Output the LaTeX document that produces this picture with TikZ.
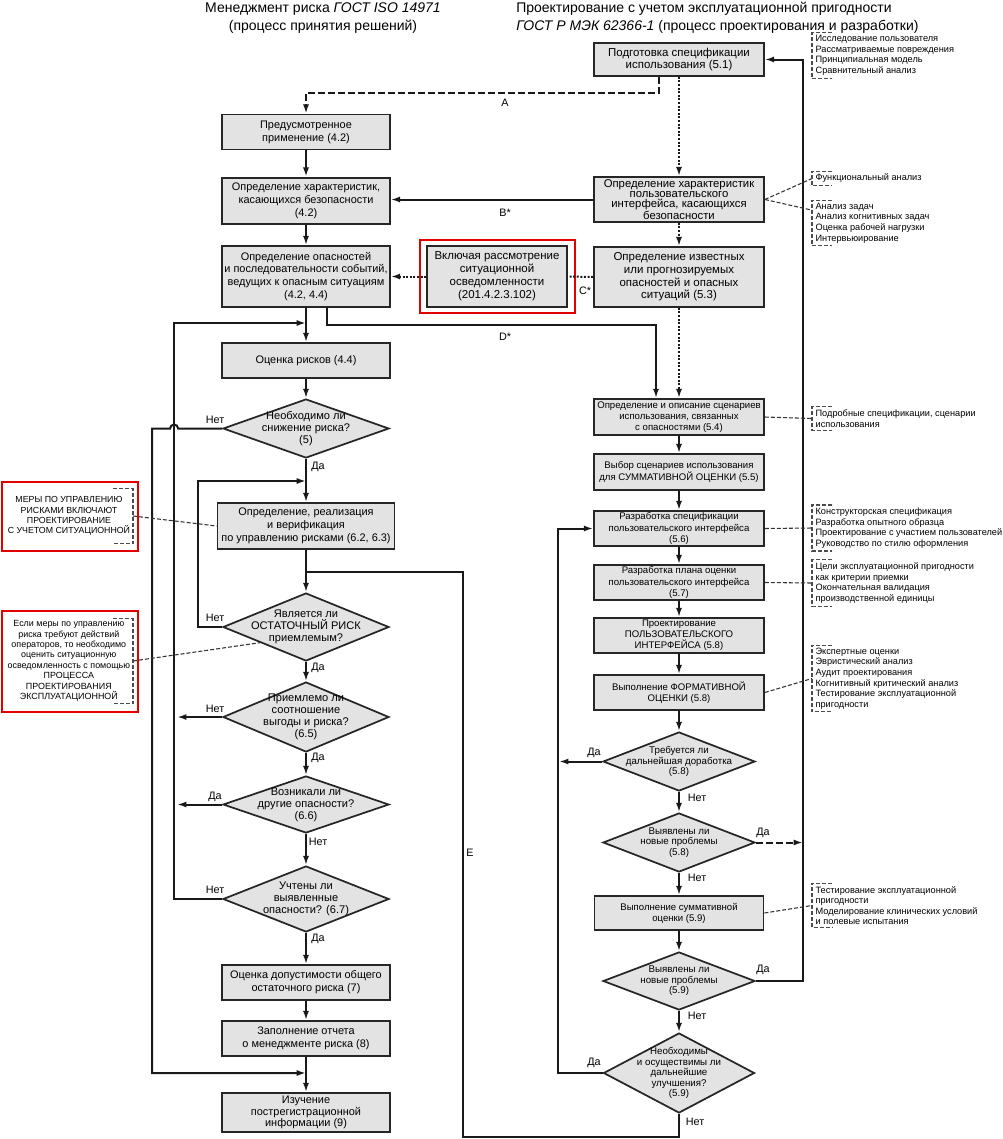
\documentclass[tikz,border=0pt]{standalone}
\usepackage{fontspec}
\setmainfont{Liberation Sans}
\usetikzlibrary{arrows.meta,shapes.geometric,calc}

\begin{document}
\begin{tikzpicture}[
    x=0.75pt, y=-0.75pt,
    >={Latex[length=7pt,width=4.6pt]},
    box/.style={rectangle, draw=black!85, line width=1.3pt, fill=black!11, align=center, inner sep=1pt, font=\fontsize{8.2}{9.7}\selectfont},
    lbox/.style={box, minimum width=126pt},
    rbox/.style={box, minimum width=127.5pt, font=\fontsize{8.6}{9.5}\selectfont},
    sbox/.style={rbox, font=\fontsize{7.2}{8.3}\selectfont},
    decision/.style={diamond, draw=black!85, line width=1.3pt, fill=black!11, inner sep=0pt, minimum width=124.5pt, label={[align=center, font=\fontsize{8.3}{9}\selectfont]center:{#1}}},
    sdecision/.style={diamond, draw=black!85, line width=1.3pt, fill=black!11, inner sep=0pt, minimum width=114pt, label={[align=center, font=\fontsize{7.3}{7.9}\selectfont]center:{#1}}},
    redframe/.style={rectangle, draw=red!90!black, line width=2.2pt, minimum width=102pt},
    note/.style={anchor=west, align=left, inner xsep=2.5pt, inner ysep=2pt, font=\fontsize{6.9}{7.9}\selectfont},
    rednote/.style={anchor=east, align=center, inner xsep=2pt, inner ysep=0pt, font=\fontsize{6.7}{7.8}\selectfont},
    heading/.style={font=\fontsize{10.5}{13.5}\selectfont, inner sep=0pt},
    answer/.style={font=\fontsize{8.1}{9}\selectfont, inner sep=0pt},
    flow/.style={->, line width=1.5pt, black!90},
    dotline/.style={line width=1.5pt, dash pattern=on 1.5pt off 1.2pt, black!90},
    dashline/.style={line width=1.5pt, dash pattern=on 5pt off 2.5pt, black!90},
    link/.style={line width=0.8pt, dash pattern=on 3pt off 1.5pt, black!80},
    brk/.style={line width=0.8pt, dash pattern=on 3pt off 1.5pt, black!70}
  ]
  \useasboundingbox (0,0) rectangle (1003,1139);

  %Titles
  \node[heading, anchor=north, align=center] (ltitle) at (323,2) {Менеджмент риска \textit{ГОСТ ISO 14971}\\(процесс принятия решений)};
  \node[heading, anchor=north west, align=left] (rtitle) at (516,2) {Проектирование с учетом эксплуатационной пригодности\\\textit{ГОСТ Р МЭК 62366-1} (процесс проектирования и разработки)};

  %Nodes (risk management)
  \node[lbox, minimum height=26.25pt] (intended) at (306,132) {Предусмотренное\\применение (4.2)};
  \node[lbox, minimum height=35pt] (safety) at (306,201) {Определение характеристик,\\касающихся безопасности\\(4.2)};
  \node[lbox, minimum height=45.75pt] (hazards) at (306,276.5) {Определение опасностей\\и последовательности событий,\\ведущих к опасным ситуациям\\(4.2, 4.4)};
  \node[lbox, minimum height=26.25pt] (risk) at (306,360.5) {Оценка рисков (4.4)};
  \node[decision={Необходимо ли\\снижение риска?\\(5)}, minimum height=44.25pt] (reduce) at (306,428.5) {};
  \node[lbox, minimum width=132.75pt, minimum height=34.5pt] (control) at (306,526) {Определение, реализация\\и верификация\\по управлению рисками (6.2, 6.3)};
  \node[decision={Является ли\\ОСТАТОЧНЫЙ РИСК\\приемлемым?}, minimum height=51pt] (resid) at (306,627) {};
  \node[decision={Приемлемо ли\\соотношение\\выгоды и риска?\\(6.5)}, minimum height=52.5pt] (benefit) at (306,717) {};
  \node[decision={Возникали ли\\другие опасности?\\(6.6)}, minimum height=42.75pt] (other) at (306,804.5) {};
  \node[decision={Учтены ли\\выявленные\\опасности? (6.7)}, minimum height=49.5pt] (found) at (306,899) {};
  \node[lbox, minimum height=26.25pt] (overall) at (306,982.5) {Оценка допустимости общего\\остаточного риска (7)};
  \node[lbox, minimum height=26.25pt] (report) at (306,1038.5) {Заполнение отчета\\о менеджменте риска (8)};
  \node[lbox, minimum height=29.25pt, font=\fontsize{8.2}{8.4}\selectfont] (pms) at (306,1112.5) {Изучение\\пострегистрационной\\информации (9)};

  %Nodes (usability engineering)
  \node[rbox, minimum height=24.75pt] (spec) at (679,59.5) {Подготовка спецификации\\использования (5.1)};
  \node[rbox, minimum height=33.75pt, inner sep=0.5pt, font=\fontsize{8.5}{7.7}\selectfont] (ui) at (679,199.5) {Определение характеристик\\пользовательского\\интерфейса, касающихся\\безопасности};
  \node[rbox, minimum height=45pt] (known) at (679,277) {Определение известных\\или прогнозируемых\\опасностей и опасных\\ситуаций (5.3)};
  \node[sbox, minimum height=27pt] (scen) at (679,417) {Определение и описание сценариев\\использования, связанных\\с опасностями (5.4)};
  \node[sbox, minimum height=27pt] (select) at (679,472) {Выбор сценариев использования\\для СУММАТИВНОЙ ОЦЕНКИ (5.5)};
  \node[sbox, minimum height=26.25pt] (uispec) at (679,528.5) {Разработка спецификации\\пользовательского интерфейса\\(5.6)};
  \node[sbox, minimum height=26.25pt] (evalplan) at (679,582.5) {Разработка плана оценки\\пользовательского интерфейса\\(5.7)};
  \node[sbox, minimum height=26.25pt] (uidesign) at (679,635.5) {Проектирование\\ПОЛЬЗОВАТЕЛЬСКОГО\\ИНТЕРФЕЙСА (5.8)};
  \node[sbox, minimum height=26.25pt] (formative) at (679,692.5) {Выполнение ФОРМАТИВНОЙ\\ОЦЕНКИ (5.8)};
  \node[sdecision={Требуется ли\\дальнейшая доработка\\(5.8)}, minimum height=44.25pt] (rework) at (679,761.5) {};
  \node[sdecision={Выявлены ли\\новые проблемы\\(5.8)}, minimum height=44.25pt] (issues58) at (679,842.5) {};
  \node[sbox, minimum width=126.75pt, minimum height=25.5pt] (summative) at (679,913) {Выполнение суммативной\\оценки (5.9)};
  \node[sdecision={Выявлены ли\\новые проблемы\\(5.9)}, minimum height=43.5pt] (issues59) at (679,981) {};
  \node[sdecision={Необходимы\\и осуществимы ли\\дальнейшие\\улучшения?\\(5.9)}, minimum width=113.25pt, minimum height=60pt] (improve) at (679,1073) {};

  %Situation awareness
  \node[box, minimum width=105pt, minimum height=45.75pt, font=\fontsize{8.6}{9.7}\selectfont] (aware) at (497,276.5) {Включая рассмотрение\\ситуационной\\осведомленности\\(201.4.2.3.102)};
  \node[redframe, minimum width=116.25pt, minimum height=54.75pt] (awareframe) at (497.5,276.5) {};

  %Notes
  \node[note] (n1) at (812,55.5) {Исследование пользователя\\Рассматриваемые повреждения\\Принципиальная модель\\Сравнительный анализ};
  \node[note] (n2) at (812,178.5) {Функциональный анализ};
  \node[note] (n3) at (812,223) {Анализ задач\\Анализ когнитивных задач\\Оценка рабочей нагрузки\\Интервьюирование};
  \node[note] (n4) at (812,418.5) {Подробные спецификации, сценарии\\использования};
  \node[note] (n5) at (812,528) {Конструкторская спецификация\\Разработка опытного образца\\Проектирование с участием пользователей\\Руководство по стилю оформления};
  \node[note] (n6) at (812,583) {Цели эксплуатационной пригодности\\как критерии приемки\\Окончательная валидация\\производственной единицы};
  \node[note] (n7) at (812,678.5) {Экспертные оценки\\Эвристический анализ\\Аудит проектирования\\Когнитивный критический анализ\\Тестирование эксплуатационной\\пригодности};
  \node[note] (n8) at (812,905.5) {Тестирование эксплуатационной\\пригодности\\Моделирование клинических условий\\и полевые испытания};

  \node[redframe, minimum height=51.75pt] (frame1) at (70,516.5) {};
  \node[rednote, minimum height=40.5pt, font=\fontsize{6.6}{7.8}\selectfont] (r1) at (133,516) {МЕРЫ ПО УПРАВЛЕНИЮ\\РИСКАМИ ВКЛЮЧАЮТ\\ПРОЕКТИРОВАНИЕ\\С УЧЕТОМ СИТУАЦИОННОЙ};
  \node[redframe, minimum height=75.75pt] (frame2) at (70,661.5) {};
  \node[rednote, minimum height=63pt] (r2) at (133,661) {Если меры по управлению\\риска требуют действий\\операторов, то необходимо\\оценить ситуационную\\осведомленность с помощью\\ПРОЦЕССА\\ПРОЕКТИРОВАНИЯ\\ЭКСПЛУАТАЦИОННОЙ};

  %Junctions
  \coordinate (j1) at (306,323);
  \coordinate (j2) at (306,481);
  \coordinate (j3) at (306,572);
  \coordinate (j4) at (306,1073);

  %Lines
  \draw[flow] (intended) -- (safety);
  \draw[flow] (safety) -- (hazards);
  \draw[flow] (hazards) -- (risk);
  \draw[flow] (risk) -- (reduce);
  \draw[flow] (reduce) -- (control);
  \draw[flow] (control) -- (resid);
  \draw[flow] (resid) -- (benefit);
  \draw[flow] (benefit) -- (other);
  \draw[flow] (other) -- (found);
  \draw[flow] (found) -- (overall);
  \draw[flow] (overall) -- (report);
  \draw[flow] (report) -- (pms);

  \draw[flow] (found.west) -- ++(-48,0) |- (j1);
  \draw[flow] (benefit.west) -- ++(-45,0);
  \draw[flow] (other.west) -- ++(-45,0);
  \draw[flow] (reduce.west) -- ++(-44,0) arc[start angle=0, end angle=-180, radius=4] -- ++(-18,0) |- (j4);
  \draw[flow] (resid.west) -- ++(-24,0) |- (j2);

  \draw[dashline, ->] ([xshift=-15pt]spec.south) -- ++(0,16) -| (intended.north);
  \draw[dotline, ->] (spec) -- (ui);
  \draw[dotline, ->] (ui) -- (known);
  \draw[dotline, ->] (known) -- (scen);
  \draw[flow] (ui.west) -- (ui.west -| safety.east);
  \draw[dotline] (known.west) -- (aware.east);
  \draw[dotline, ->] (aware.west) -- (hazards.east);
  \draw[flow] ([xshift=15.75pt]hazards.south) -- ++(0,17) -| ([xshift=-17.25pt]scen.north);

  \draw[flow] (scen) -- (select);
  \draw[flow] (select) -- (uispec);
  \draw[flow] (uispec) -- (evalplan);
  \draw[flow] (evalplan) -- (uidesign);
  \draw[flow] (uidesign) -- (formative);
  \draw[flow] (formative) -- (rework);
  \draw[flow] (rework) -- (issues58);
  \draw[flow] (issues58) -- (summative);
  \draw[flow] (summative) -- (issues59);
  \draw[flow] (issues59) -- (improve);

  \draw[flow] (rework.west) -- ++(-43,0);
  \draw[dashline, ->] (issues58.east) -- ++(47,0);
  \draw[flow] (issues59.east) -- ++(47,0) |- (spec.east);
  \draw[flow] (improve.west) -- ++(-45,0) |- (uispec.west);
  \draw[line width=1.5pt, black!90] (improve.south) -- ++(0,23) -- ++(-216,0) |- (j3);

  %Note links
  \draw[link] (ui.east) -- (n2.west);
  \draw[link] (ui.east) -- ([yshift=-7.5pt]n3.north west);
  \draw[link] (scen.east) -- (n4.west);
  \draw[link] (uispec.east) -- (n5.west);
  \draw[link] (evalplan.east) -- (n6.west);
  \draw[link] (formative.east) -- (n7.west);
  \draw[link] (summative.east) -- (n8.west);
  \draw[link] (r1.east) -- (control.west);
  \draw[link] (r2.east) -- ($(resid.west)!0.45!(resid.south)$);

  \foreach \n in {n1,n2,n3,n4,n5,n6,n7,n8}
    \draw[brk] ([xshift=15pt]\n.north west) -- (\n.north west) -- (\n.south west) -- ([xshift=15pt]\n.south west);
  \foreach \n in {r1,r2}
    \draw[brk] ([xshift=-15pt]\n.north east) -- (\n.north east) -- (\n.south east) -- ([xshift=-15pt]\n.south east);

  %Labels
  \node[answer] (lA) at (505,103) {A};
  \node[answer] (lB) at (505,213) {B*};
  \node[answer] (lC) at (585,291) {C*};
  \node[answer] (lD) at (505,337) {D*};
  \node[answer] (lE) at (470,853) {E};

  \node[answer] (no1) at (215,420) {Нет};
  \node[answer] (yes1) at (318,467) {Да};
  \node[answer] (no2) at (215,618) {Нет};
  \node[answer] (yes2) at (318,668) {Да};
  \node[answer] (no3) at (215,709) {Нет};
  \node[answer] (yes3) at (318,758) {Да};
  \node[answer] (yes4) at (215,797) {Да};
  \node[answer] (no4) at (318,842) {Нет};
  \node[answer] (no5) at (215,890) {Нет};
  \node[answer] (yes5) at (318,939) {Да};

  \node[answer] (yes6) at (594,753) {Да};
  \node[answer] (no6) at (697,798) {Нет};
  \node[answer] (yes7) at (763,833) {Да};
  \node[answer] (no7) at (697,878) {Нет};
  \node[answer] (yes8) at (763,970) {Да};
  \node[answer] (no8) at (697,1016) {Нет};
  \node[answer] (yes9) at (594,1063) {Да};
  \node[answer] (no9) at (695,1122) {Нет};

\end{tikzpicture}
\end{document}
